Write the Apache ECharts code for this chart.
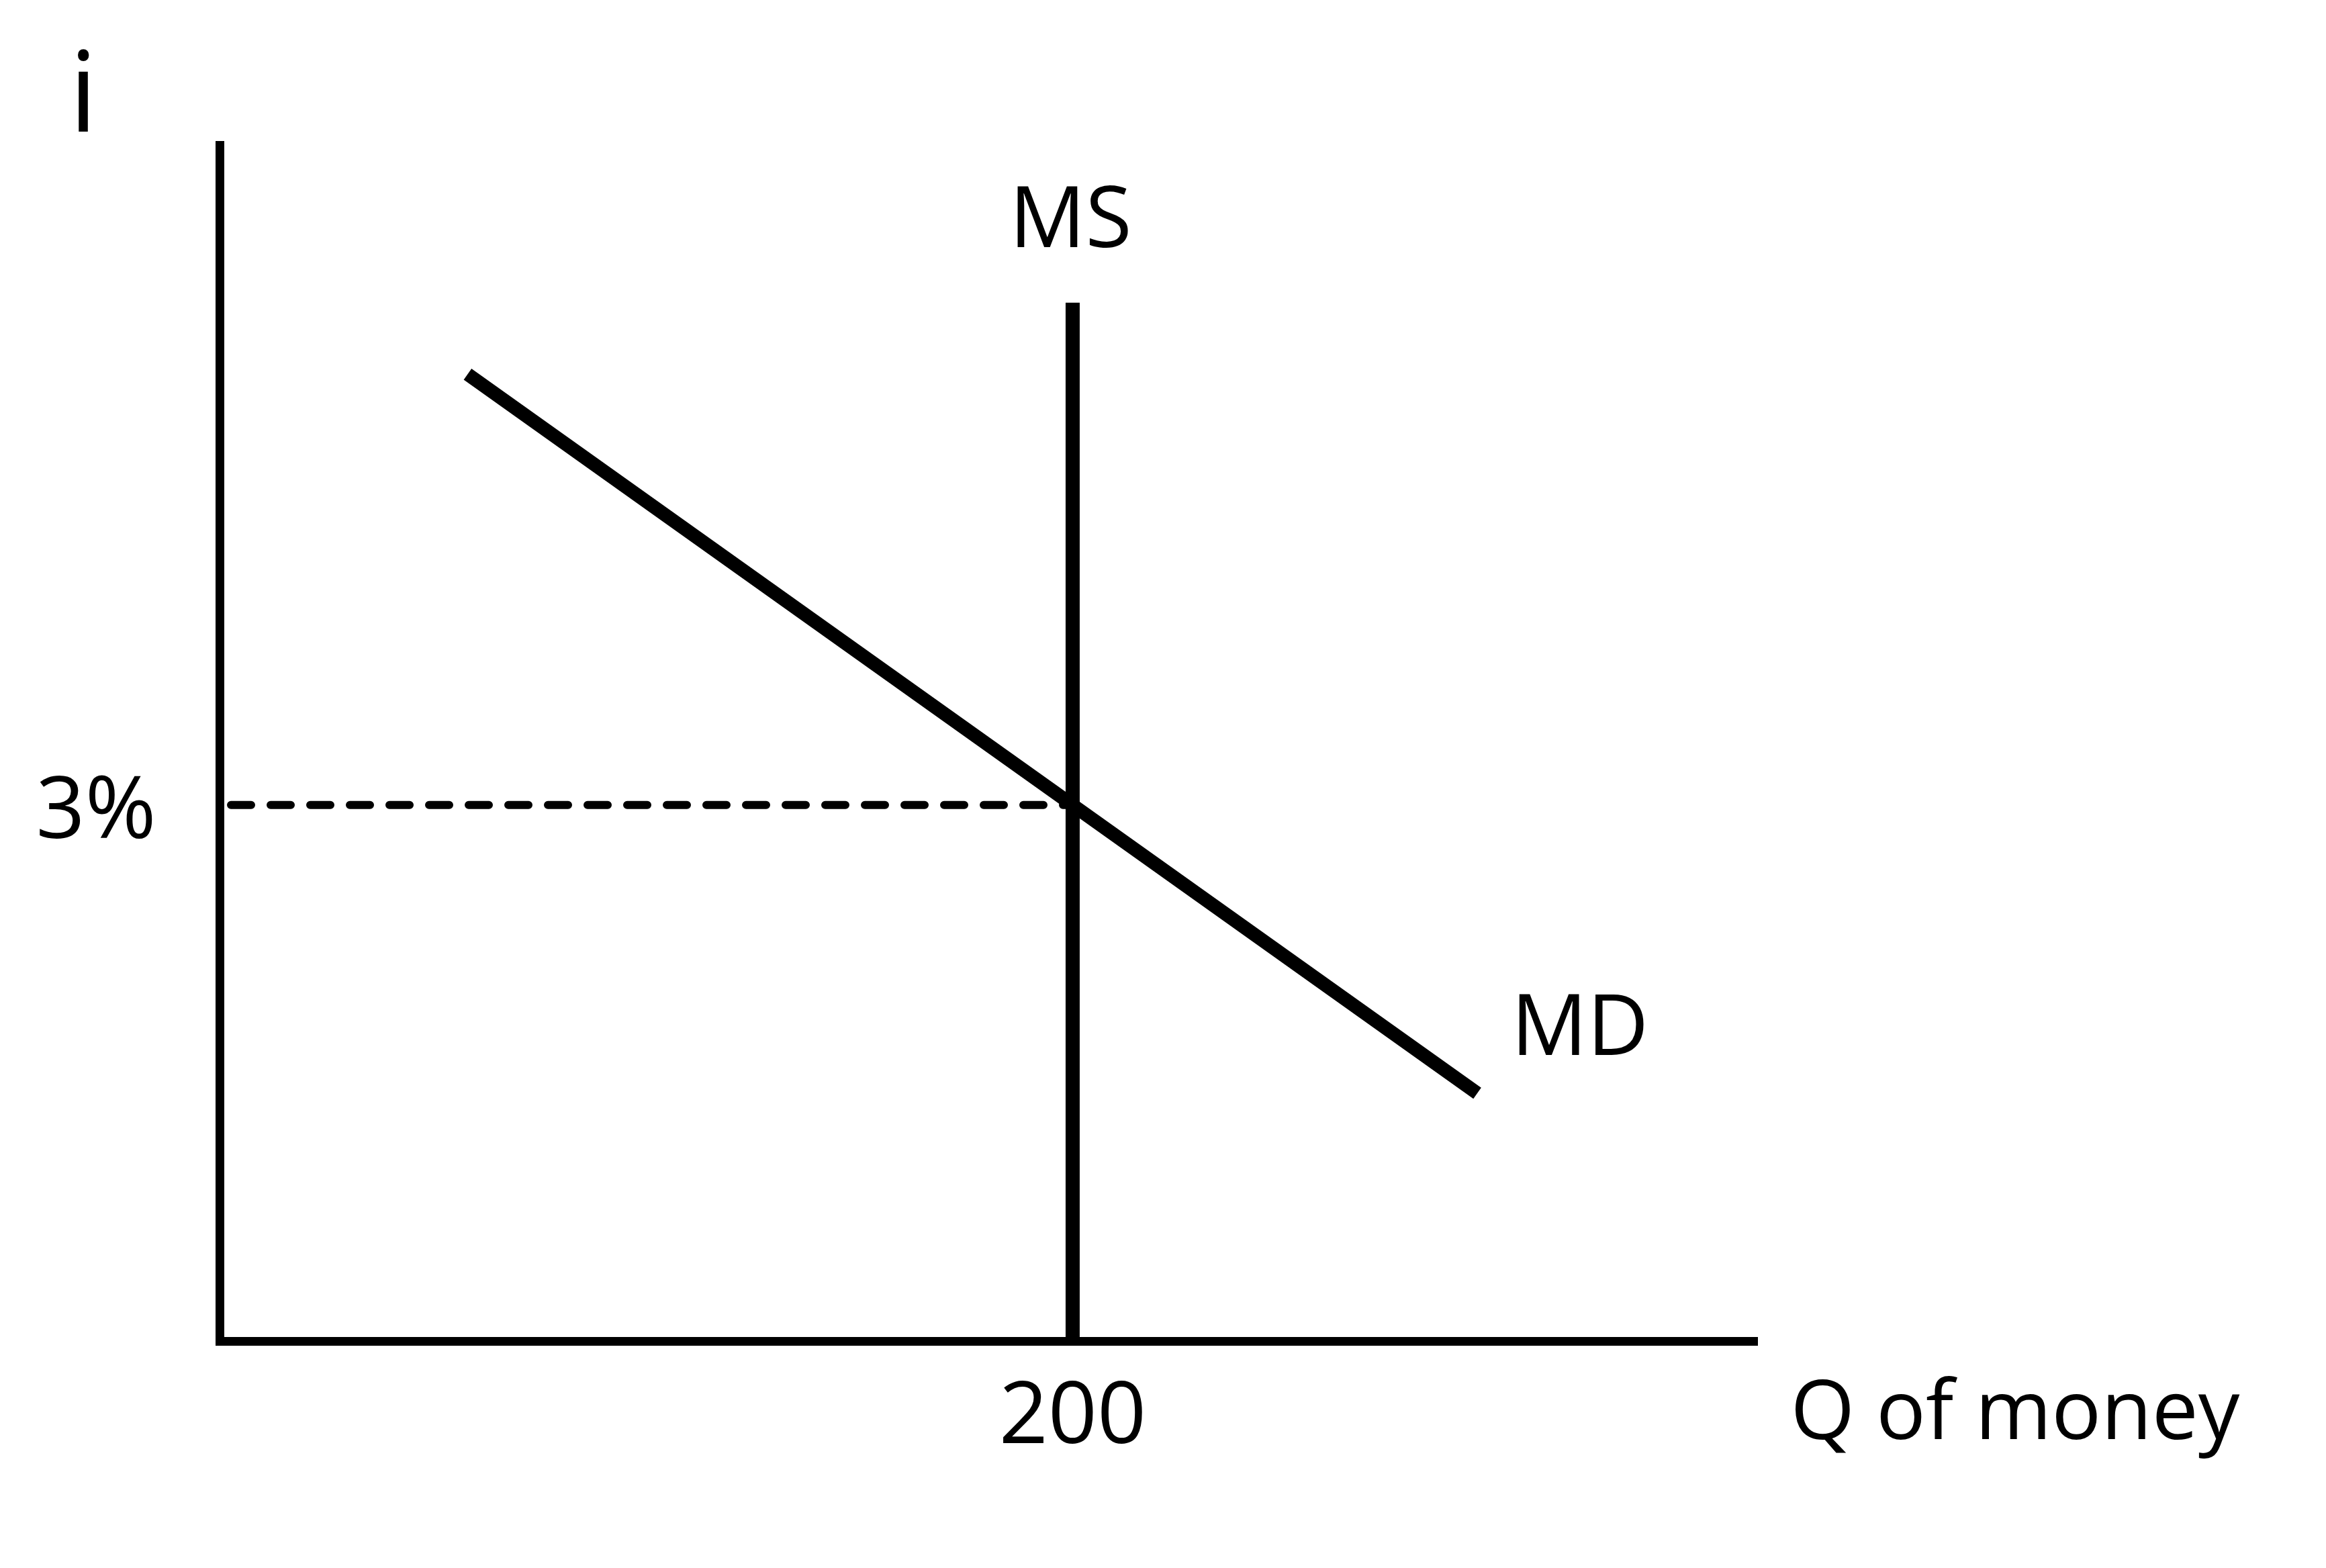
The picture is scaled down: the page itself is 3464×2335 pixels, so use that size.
<!DOCTYPE html>
<html>
<head>
<meta charset="utf-8">
<script src="https://cdn.jsdelivr.net/npm/echarts@6/dist/echarts.min.js"></script>
<style>
html,body{margin:0;padding:0;background:#fff;}
#chart{width:3464px;height:2335px;}
</style>
</head>
<body>
<div id="chart"></div>
<script>
// ---- data ----
const xTickValues = [200];
const yTickValues = [3];
const xAxisName = 'Q of money';
const yAxisName = 'i';
const mdCurve = [[58.1, 5.41], [294.9, 1.388]];   // money demand
const msCurve = [[200, 0], [200, 5.81]];           // money supply (vertical)
const eqGuide = [[2.6, 3], [200, 3]];              // dashed guide at 3%
const curveNames = ['MD', 'MS'];

const FONT = 'Open Sans';
const chart = echarts.init(document.getElementById('chart'), null, {renderer: 'canvas'});

chart.setOption({
  animation: false,
  backgroundColor: '#ffffff',
  grid: {left: 327.5, top: 216.5, width: 2284, height: 1781, containLabel: false},
  xAxis: {
    type: 'value', min: 0, max: 359.7,
    splitLine: {show: false},
    axisTick: {show: false},
    axisLine: {show: true, onZero: false, lineStyle: {color: '#000', width: 13, cap: 'square'}},
    axisLabel: {
      customValues: xTickValues, color: '#000', fontFamily: FONT, fontSize: 128,
      lineHeight: 128, margin: 51
    },
    name: xAxisName, nameLocation: 'end', nameGap: 55,
    nameTextStyle: {color: '#000', fontFamily: FONT, fontSize: 123, lineHeight: 221,
      align: 'left', verticalAlign: 'top'}
  },
  yAxis: {
    type: 'value', min: 0, max: 6.69,
    splitLine: {show: false},
    axisTick: {show: false},
    axisLine: {show: true, onZero: false, lineStyle: {color: '#000', width: 13, cap: 'square'}},
    axisLabel: {
      customValues: yTickValues, formatter: '{value}%', color: '#000', fontFamily: FONT,
      fontSize: 128, lineHeight: 26, verticalAlign: 'top', margin: 95
    },
    name: yAxisName, nameLocation: 'end', nameGap: 68,
    nameTextStyle: {color: '#000', fontFamily: FONT, fontSize: 167, lineHeight: 167,
      align: 'center', verticalAlign: 'middle', padding: [0, 407, 0, 0]}
  },
  series: [
    {
      type: 'line', data: eqGuide, symbol: 'none', silent: true, z: 2,
      lineStyle: {color: '#000', width: 12, type: [30, 29], cap: 'round'}
    },
    {
      type: 'line', name: curveNames[0], data: mdCurve, z: 3,
      symbol: 'circle', symbolSize: 1, showSymbol: true,
      itemStyle: {color: 'rgba(0,0,0,0)'},
      lineStyle: {color: '#000', width: 20, cap: 'butt'},
      label: {
        show: true, position: 'right', distance: 50, offset: [0, -93],
        color: '#000', fontFamily: FONT, fontSize: 126, lineHeight: 126,
        formatter: p => p.dataIndex === mdCurve.length - 1 ? curveNames[0] : ''
      }
    },
    {
      type: 'line', name: curveNames[1], data: msCurve, z: 4,
      symbol: 'circle', symbolSize: 1, showSymbol: true,
      itemStyle: {color: 'rgba(0,0,0,0)'},
      lineStyle: {color: '#000', width: 21, cap: 'butt'},
      label: {
        show: true, position: 'top', distance: 55, offset: [-3, 0],
        color: '#000', fontFamily: FONT, fontSize: 126, lineHeight: 126,
        formatter: p => p.dataIndex === msCurve.length - 1 ? curveNames[1] : ''
      }
    }
  ]
});
</script>
</body>
</html>
